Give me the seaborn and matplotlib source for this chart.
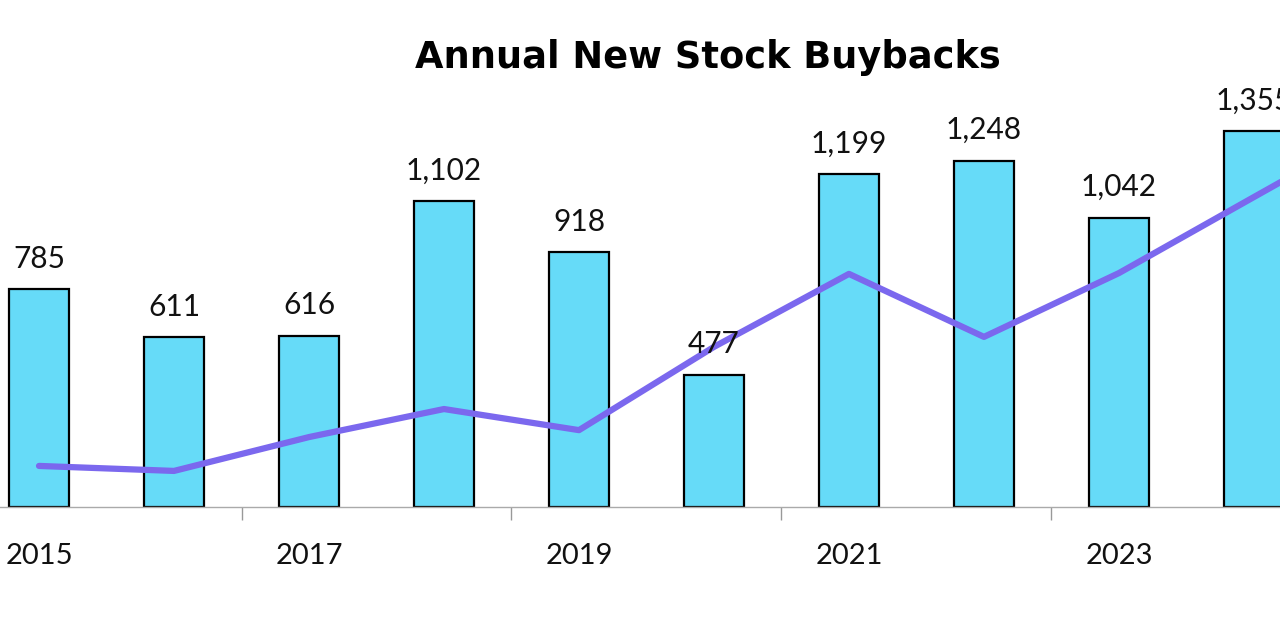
import matplotlib
matplotlib.use("Agg")
import matplotlib.pyplot as plt
import numpy as np
import pandas as pd
import seaborn as sns

# data
years = [2015, 2016, 2017, 2018, 2019, 2020, 2021, 2022, 2023, 2024]
buybacks = [785, 611, 616, 1102, 918, 477, 1199, 1248, 1042, 1355]
# trend line (same scale as bars, unlabeled); last point lies past the cropped edge
trend_years = [2015, 2016, 2017, 2018, 2019, 2020, 2021, 2022, 2023, 2024, 2025]
trend = [148, 130, 252, 353, 277, 577, 840, 613, 843, 1117, 1390]

BAR = "#66dbf8"
LINE = "#7b68ee"

sns.set_theme(style="white")
plt.rcParams["font.family"] = ["Lato", "DejaVu Sans"]

fig = plt.figure(figsize=(12.8, 6.4), dpi=100)
ax = fig.add_axes([0, 133 / 640, 1, 507 / 640])

df = pd.DataFrame({"year": [str(y) for y in years], "value": buybacks})
sns.barplot(data=df, x="year", y="value", color=BAR, width=0.44,
            edgecolor="black", linewidth=1.6, saturation=1, ax=ax)

pos = {y: i for i, y in enumerate(trend_years)}
tdf = pd.DataFrame({"x": [pos[y] for y in trend_years], "v": trend})
sns.lineplot(data=tdf, x="x", y="v", color=LINE, linewidth=4.5, ax=ax,
             solid_capstyle="round", zorder=3)

for i, v in enumerate(buybacks):
    ax.text(i, v + 60, f"{v:,}", ha="center", va="bottom", fontsize=21.5,
            color="#111111")

ax.set_xlim(-0.289, 9.193)
ax.set_ylim(0, 1827)
ax.set_xlabel("")
ax.set_ylabel("")
ax.set_yticks([])
ax.set_xticks(range(0, len(years), 2))
ax.set_xticklabels([str(y) for y in years[::2]], fontsize=21, color="#111111")
ax.set_xticks([1.5, 3.5, 5.5, 7.5], minor=True)
ax.tick_params(axis="x", which="major", length=0, pad=26)
ax.tick_params(axis="x", which="minor", length=9, width=1, color="#999999",
               direction="out", bottom=True)
for s in ["top", "left", "right"]:
    ax.spines[s].set_visible(False)
ax.spines["bottom"].set_color("#aaaaaa")
ax.spines["bottom"].set_linewidth(1)

fig.text(0.553, 1 - 57 / 640, "Annual New Stock Buybacks", ha="center",
         va="center", fontsize=26.5, fontweight="bold", color="black",
         family=["DejaVu Sans"])

fig.savefig("out.png", dpi=100)
